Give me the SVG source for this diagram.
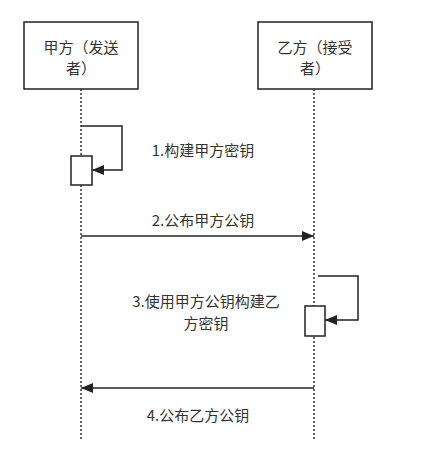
<svg xmlns="http://www.w3.org/2000/svg" width="424" height="450" viewBox="0 0 424 450">
<style>
.bg{fill:#ffffff}
.box{fill:#ffffff;stroke:#222;stroke-width:1.5}
.life{stroke:#333;stroke-width:1.5;stroke-dasharray:2 2;fill:none}
.msg{stroke:#222;stroke-width:1.5;fill:none}
.t{font-family:"Noto Sans CJK SC","Noto Sans",sans-serif;font-size:15px;fill:#333;text-anchor:middle;dominant-baseline:central}
</style>
<defs>
<marker id="ah" viewBox="0 0 12 10" refX="12" refY="5" markerWidth="12" markerHeight="10" markerUnits="userSpaceOnUse" orient="auto">
<path d="M0,0 L12,5 L0,10 Z" fill="#222"/>
</marker>
</defs>
<rect class="bg" width="424" height="450"/>
<g id="lifelines">
<line class="life" x1="81" y1="89" x2="81" y2="440"/>
<line class="life" x1="314" y1="89" x2="314" y2="440"/>
</g>
<g id="sender">
<rect class="box" x="24" y="22" width="114" height="67"/>
<text class="t" x="81" y="46">甲方（发送</text>
<text class="t" x="81" y="67">者）</text>
</g>
<g id="receiver">
<rect class="box" x="258" y="22" width="114" height="67"/>
<text class="t" x="315" y="46">乙方（接受</text>
<text class="t" x="315" y="67">者）</text>
</g>
<g id="act1">
<rect class="box" x="71" y="156" width="21" height="29"/>
</g>
<g id="act2">
<rect class="box" x="305" y="306" width="20" height="30"/>
</g>
<g id="connectors">
<path class="msg" d="M81,126 H122 V170 H92" marker-end="url(#ah)"/>
<path class="msg" d="M81,236 H314" marker-end="url(#ah)"/>
<path class="msg" d="M318,276 H358 V320 H325" marker-end="url(#ah)"/>
<path class="msg" d="M314,388 H81" marker-end="url(#ah)"/>
</g>
<g id="labels">
<text class="t" x="203" y="149">1.构建甲方密钥</text>
<text class="t" x="203" y="219">2.公布甲方公钥</text>
<text class="t" x="206" y="300">3.使用甲方公钥构建乙</text>
<text class="t" x="206" y="322">方密钥</text>
<text class="t" x="198" y="414">4.公布乙方公钥</text>
</g>
</svg>
